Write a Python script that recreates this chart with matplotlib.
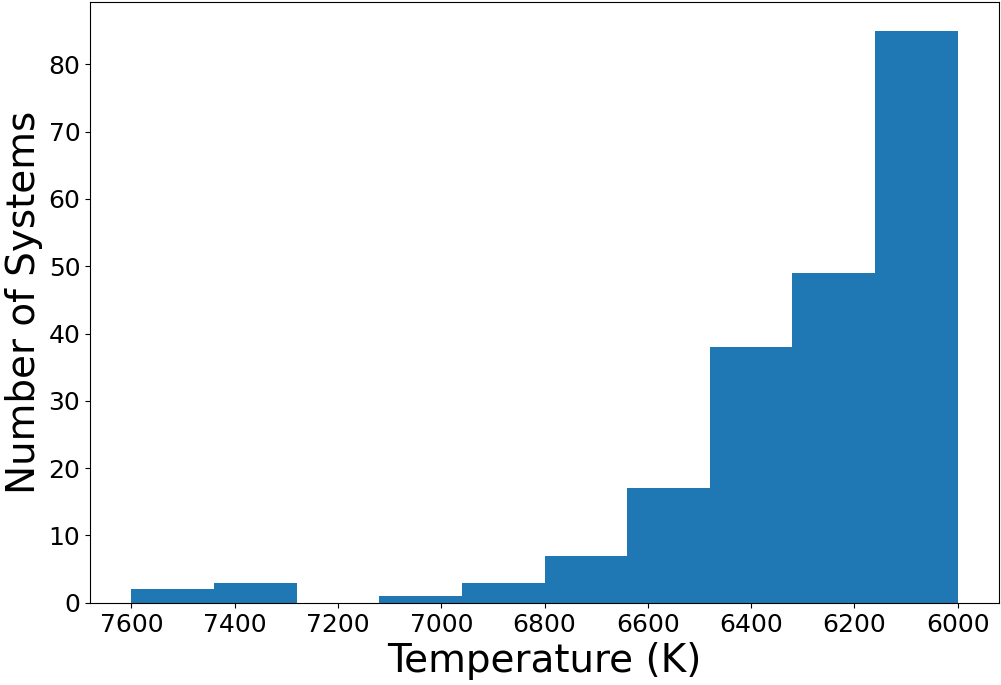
import matplotlib
matplotlib.use("Agg")
import matplotlib.pyplot as plt
import numpy as np

bin_edges = [7600, 7440, 7280, 7120, 6960, 6800, 6640, 6480, 6320, 6160, 6000]
counts = [2, 3, 0, 1, 3, 7, 17, 38, 49, 85]

centers = [(a + b) / 2 for a, b in zip(bin_edges[:-1], bin_edges[1:])]
fig, ax = plt.subplots(figsize=(10.01, 6.85), dpi=100)
ax.hist(centers, bins=sorted(bin_edges), weights=counts, color="#1f77b4")
ax.invert_xaxis()
ax.set_xlabel("Temperature (K)", fontsize=28)
ax.set_ylabel("Number of Systems", fontsize=28)
ax.tick_params(labelsize=18)
fig.subplots_adjust(left=0.09, right=0.998, top=0.997, bottom=0.12)
fig.savefig("out.png", dpi=100)
